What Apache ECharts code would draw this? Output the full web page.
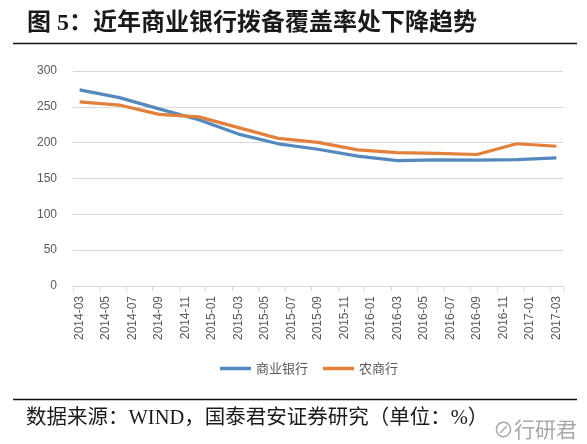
<!DOCTYPE html>
<html>
<head>
<meta charset="utf-8">
<script src="https://cdn.jsdelivr.net/npm/echarts@6/dist/echarts.min.js"></script>
<style>
html,body{margin:0;padding:0;background:#fff;}
#c{width:587px;height:444px;}
</style>
</head>
<body>
<div id="c"></div>
<script>
// Monthly category axis (labels shown every other month)
var months = ['2014-03','2014-04','2014-05','2014-06','2014-07','2014-08','2014-09','2014-10','2014-11','2014-12',
  '2015-01','2015-02','2015-03','2015-04','2015-05','2015-06','2015-07','2015-08','2015-09','2015-10','2015-11','2015-12',
  '2016-01','2016-02','2016-03','2016-04','2016-05','2016-06','2016-07','2016-08','2016-09','2016-10','2016-11','2016-12',
  '2017-01','2017-02','2017-03'];
// Quarterly observation dates
var quarters = ['2014-03','2014-06','2014-09','2014-12','2015-03','2015-06','2015-09','2015-12','2016-03','2016-06','2016-09','2016-12','2017-03'];
var commercialBanks = [273.66, 262.88, 247.15, 232.06, 211.98, 198.39, 190.79, 181.18, 175.03, 175.96, 175.52, 176.40, 178.76];
var ruralBanks = [257, 252.5, 239.5, 236, 221, 206, 200.5, 190, 186, 185, 183.5, 198.5, 195];
var seriesNames = ['商业银行', '农商行'];
var yTicks = [0, 50, 100, 150, 200, 250, 300];

function pairs(vals){ return quarters.map(function(q,i){ return [q, vals[i]]; }); }

var chart = echarts.init(document.getElementById('c'), null, {renderer:'canvas'});
var serifCJK = '"Liberation Serif", "Noto Sans CJK SC", serif';
chart.setOption({
  animation: false,
  backgroundColor: '#fff',
  graphic: [
    {type:'text', left: 27, top: 12, style:{text:'图 5：近年商业银行拨备覆盖率处下降趋势', font:'bold 24px ' + serifCJK, fill:'#1a1a1a'}},
    {type:'line', shape:{x1:13, y1:43.5, x2:577, y2:43.5}, style:{stroke:'#111', lineWidth:1.5}},
    {type:'line', shape:{x1:13, y1:399.5, x2:577, y2:399.5}, style:{stroke:'#111', lineWidth:1.5}},
    {type:'text', left: 26, top: 408, style:{text:'数据来源：WIND，国泰君安证券研究（单位：%）', font:'20.5px ' + serifCJK, fill:'#1a1a1a'}},
    {type:'text', right: 10, top: 419, style:{text:'⊘行研君', font:'21px "Noto Sans CJK SC", sans-serif', fill:'#a8a8a8'}}
  ],
  grid: {left: 73, right: 24, top: 71, bottom: 158, containLabel: false},
  legend: {
    left: 215, top: 357,
    icon: 'rect',
    itemWidth: 31, itemHeight: 3.5, itemGap: 15,
    textStyle: {color:'#595959', fontSize: 13, fontFamily:'"Noto Sans CJK SC", sans-serif'},
    data: seriesNames
  },
  xAxis: {
    type: 'category',
    data: months,
    boundaryGap: true,
    axisLine: {lineStyle:{color:'#d9d9d9', width:1}},
    axisTick: {show:true, interval:1, length:5, lineStyle:{color:'#d9d9d9'}},
    axisLabel: {interval:1, rotate:90, margin:10, color:'#595959', fontSize:12, fontFamily:'"Liberation Sans", sans-serif'}
  },
  yAxis: {
    type: 'value',
    min: yTicks[0], max: yTicks[yTicks.length-1], interval: 50,
    axisLine: {show:false},
    axisTick: {show:false},
    splitLine: {lineStyle:{color:'#d9d9d9', width:1}},
    axisLabel: {margin:16, color:'#595959', fontSize:12, fontFamily:'"Liberation Sans", sans-serif'}
  },
  series: [
    {name: seriesNames[0], type:'line', data: pairs(commercialBanks), symbol:'none', smooth:false,
     lineStyle:{color:'#5489BD', width:3.2}, itemStyle:{color:'#5489BD'}},
    {name: seriesNames[1], type:'line', data: pairs(ruralBanks), symbol:'none', smooth:false,
     lineStyle:{color:'#E3803C', width:3.2}, itemStyle:{color:'#E3803C'}}
  ]
});
</script>
</body>
</html>
